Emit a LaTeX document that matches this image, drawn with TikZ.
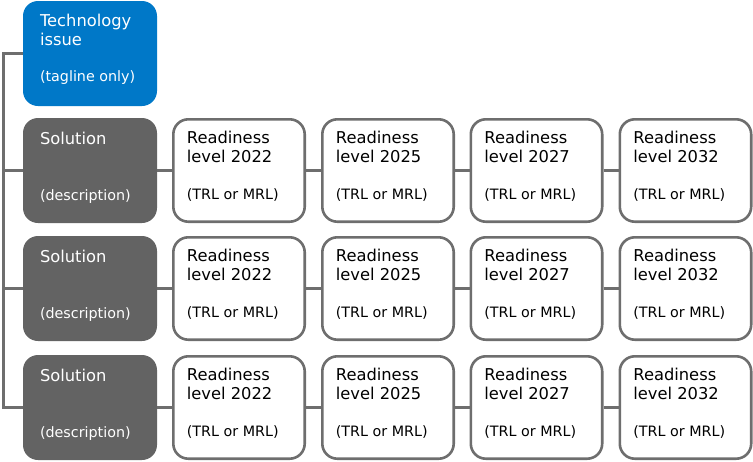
\documentclass[tikz,border=0pt]{standalone}
\usepackage{fontspec}
\setmainfont{DejaVu Sans}
\definecolor{issueblue}{RGB}{0,120,200}
\definecolor{solgray}{RGB}{99,99,99}
\definecolor{linegray}{RGB}{110,110,110}
\begin{document}
\begin{tikzpicture}[x=1pt,y=-1pt,
    issue/.style={fill=issueblue, rounded corners=15, minimum width=134, minimum height=105, inner sep=0},
    solution/.style={fill=solgray, rounded corners=15, minimum width=134, minimum height=105, inner sep=0},
    level/.style={draw=linegray, line width=2.6, fill=white, rounded corners=15, minimum width=131.4, minimum height=102.4, inner sep=0},
    head/.style={anchor=base west, align=left, inner sep=0, font=\fontsize{16.3}{19}\selectfont},
    note/.style={anchor=base west, inner sep=0, font=\fontsize{14.3}{16}\selectfont},
    link/.style={draw=linegray, line width=2.6}]
    \useasboundingbox (0,0) rectangle (753,461);
    % trunk
    \coordinate (top) at (3.5,53.5);
    \coordinate (bottom) at (3.5,407.5);
    % boxes
    \node [issue] (iss) at (90,53.5) {};
    \node [solution] (sol1) at (90,170.5) {};
    \node [solution] (sol2) at (90,288.5) {};
    \node [solution] (sol3) at (90,407.5) {};
    \node [level] (l11) at (239,170.5) {};
    \node [level] (l12) at (388,170.5) {};
    \node [level] (l13) at (536.5,170.5) {};
    \node [level] (l14) at (685.5,170.5) {};
    \node [level] (l21) at (239,288.5) {};
    \node [level] (l22) at (388,288.5) {};
    \node [level] (l23) at (536.5,288.5) {};
    \node [level] (l24) at (685.5,288.5) {};
    \node [level] (l31) at (239,407.5) {};
    \node [level] (l32) at (388,407.5) {};
    \node [level] (l33) at (536.5,407.5) {};
    \node [level] (l34) at (685.5,407.5) {};
    % connectors
    \draw [link] (iss.west) -- (top) -- (bottom) -- (sol3.west);
    \draw [link] (sol1.west) -- (sol1.west -| top);
    \draw [link] (sol2.west) -- (sol2.west -| top);
    \draw [link] (sol1) -- (l11) -- (l12) -- (l13) -- (l14);
    \draw [link] (sol2) -- (l21) -- (l22) -- (l23) -- (l24);
    \draw [link] (sol3) -- (l31) -- (l32) -- (l33) -- (l34);
    % texts (base of a two-line head is its last line)
    \node [head, text=white] (issT) at ([shift={(17,44.7)}]iss.north west) {Technology\\issue};
    \node [note, text=white] (issN) at ([shift={(17,81)}]iss.north west) {(tagline only)};
    \node [head, text=white] (sol1T) at ([shift={(17,27)}]sol1.north west) {Solution};
    \node [note, text=white] (sol1N) at ([shift={(17,83)}]sol1.north west) {(description)};
    \node [head, text=white] (sol2T) at ([shift={(17,27)}]sol2.north west) {Solution};
    \node [note, text=white] (sol2N) at ([shift={(17,83)}]sol2.north west) {(description)};
    \node [head, text=white] (sol3T) at ([shift={(17,27)}]sol3.north west) {Solution};
    \node [note, text=white] (sol3N) at ([shift={(17,83)}]sol3.north west) {(description)};
    \node [head] (l11T) at ([shift={(14.7,44.8)}]l11.north west) {Readiness\\level 2022};
    \node [head] (l12T) at ([shift={(14.7,44.8)}]l12.north west) {Readiness\\level 2025};
    \node [head] (l13T) at ([shift={(14.7,44.8)}]l13.north west) {Readiness\\level 2027};
    \node [head] (l14T) at ([shift={(14.7,44.8)}]l14.north west) {Readiness\\level 2032};
    \node [head] (l21T) at ([shift={(14.7,44.8)}]l21.north west) {Readiness\\level 2022};
    \node [head] (l22T) at ([shift={(14.7,44.8)}]l22.north west) {Readiness\\level 2025};
    \node [head] (l23T) at ([shift={(14.7,44.8)}]l23.north west) {Readiness\\level 2027};
    \node [head] (l24T) at ([shift={(14.7,44.8)}]l24.north west) {Readiness\\level 2032};
    \node [head] (l31T) at ([shift={(14.7,44.8)}]l31.north west) {Readiness\\level 2022};
    \node [head] (l32T) at ([shift={(14.7,44.8)}]l32.north west) {Readiness\\level 2025};
    \node [head] (l33T) at ([shift={(14.7,44.8)}]l33.north west) {Readiness\\level 2027};
    \node [head] (l34T) at ([shift={(14.7,44.8)}]l34.north west) {Readiness\\level 2032};
    \node [note] (l11N) at ([shift={(14.7,81.8)}]l11.north west) {(TRL or MRL)};
    \node [note] (l12N) at ([shift={(14.7,81.8)}]l12.north west) {(TRL or MRL)};
    \node [note] (l13N) at ([shift={(14.7,81.8)}]l13.north west) {(TRL or MRL)};
    \node [note] (l14N) at ([shift={(14.7,81.8)}]l14.north west) {(TRL or MRL)};
    \node [note] (l21N) at ([shift={(14.7,81.8)}]l21.north west) {(TRL or MRL)};
    \node [note] (l22N) at ([shift={(14.7,81.8)}]l22.north west) {(TRL or MRL)};
    \node [note] (l23N) at ([shift={(14.7,81.8)}]l23.north west) {(TRL or MRL)};
    \node [note] (l24N) at ([shift={(14.7,81.8)}]l24.north west) {(TRL or MRL)};
    \node [note] (l31N) at ([shift={(14.7,81.8)}]l31.north west) {(TRL or MRL)};
    \node [note] (l32N) at ([shift={(14.7,81.8)}]l32.north west) {(TRL or MRL)};
    \node [note] (l33N) at ([shift={(14.7,81.8)}]l33.north west) {(TRL or MRL)};
    \node [note] (l34N) at ([shift={(14.7,81.8)}]l34.north west) {(TRL or MRL)};
\end{tikzpicture}
\end{document}
